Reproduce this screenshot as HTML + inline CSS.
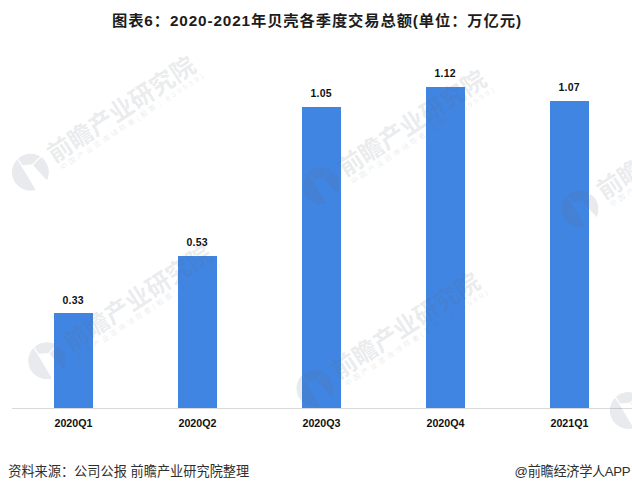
<!DOCTYPE html>
<html lang="zh"><head><meta charset="utf-8"><title>图表6：2020-2021年贝壳各季度交易总额(单位：万亿元)</title>
<style>
html,body{margin:0;padding:0;background:#fff;}
body{width:632px;height:492px;overflow:hidden;position:relative;font-family:"Liberation Sans",sans-serif;}
#chart{position:absolute;left:0;top:0;width:632px;height:492px;}
.bar{position:absolute;background:#4185E2;}
.val,.cat{position:absolute;font-family:"Liberation Sans",sans-serif;font-weight:bold;color:#111;text-align:center;white-space:nowrap;}
.val{font-size:10.5px;line-height:12px;width:60px;letter-spacing:0.25px;}
.cat{font-size:10.7px;line-height:12px;width:80px;}
.axis{position:absolute;left:11.5px;top:408px;width:621px;height:1px;background:#d9d9d9;}
svg{position:absolute;left:0;top:0;}
svg text{font-family:"Liberation Sans","Noto Sans CJK SC",sans-serif;}
.sr{position:absolute;left:0;top:0;width:1px;height:1px;overflow:hidden;opacity:0;font-size:1px;}
</style></head><body><div id="chart">

<div class="bar" style="left:54px;top:313px;width:39px;height:95px"></div>
<div class="bar" style="left:178px;top:256px;width:39px;height:152px"></div>
<div class="bar" style="left:302px;top:107px;width:39px;height:301px"></div>
<div class="bar" style="left:426px;top:87px;width:39px;height:321px"></div>
<div class="bar" style="left:550px;top:101px;width:39px;height:307px"></div>
<div class="axis"></div>
<div class="val" style="left:43.1px;top:294.26px">0.33</div>
<div class="cat" style="left:33.5px;top:416.6px">2020Q1</div>
<div class="val" style="left:167.1px;top:236.16px">0.53</div>
<div class="cat" style="left:157.5px;top:416.6px">2020Q2</div>
<div class="val" style="left:291.1px;top:87.26px">1.05</div>
<div class="cat" style="left:281.5px;top:416.6px">2020Q3</div>
<div class="val" style="left:415.1px;top:67.36px">1.12</div>
<div class="cat" style="left:405.5px;top:416.6px">2020Q4</div>
<div class="val" style="left:539.1px;top:81.26px">1.07</div>
<div class="cat" style="left:529.5px;top:416.6px">2021Q1</div>
<svg width="632" height="492" viewBox="0 0 632 492" role="img" aria-label="图表6：2020-2021年贝壳各季度交易总额(单位：万亿元) 资料来源：公司公报 前瞻产业研究院整理 @前瞻经济学人APP">
<defs><mask id="lm" maskUnits="userSpaceOnUse" x="-20" y="-20" width="40" height="40"><circle cx="0" cy="0" r="18.6" fill="#fff"/><path fill="#000" d="M-4.1,-21 L-2.9,-21 L-2.9,-10.2 L5.5,-5.7 L21,-8.6 L21,-7.3 L5.9,-4.4 L9.4,15.5 L10,21 L-5.6,21 L-5.3,17.8 L-4.1,-10.8 Z"/></mask></defs>
<text x="112" y="26.2" font-size="15.3" font-weight="bold" fill="#1c1c1c" textLength="409" lengthAdjust="spacing">图表6：2020-2021年贝壳各季度交易总额(单位：万亿元)</text>
<text x="8.2" y="476" font-size="13.2" fill="#2e2e2e" textLength="241" lengthAdjust="spacing">资料来源：公司公报 前瞻产业研究院整理</text>
<text x="514.6" y="475.6" font-size="13.2" fill="#2e2e2e" textLength="116" lengthAdjust="spacing">@前瞻经济学人APP</text>
<g fill="#5c687c" fill-opacity="0.14" transform="translate(30.4 172.2) rotate(-33.2)"><circle cx="0" cy="0" r="18.6" mask="url(#lm)"/><text x="25" y="6" font-size="24.4" font-weight="bold" textLength="171" lengthAdjust="spacing">前瞻产业研究院</text><text x="27.4" y="16" font-size="7.3" textLength="169.6" lengthAdjust="spacing">中国产业咨询领导者(股票：839599)</text></g>
<g fill="#5c687c" fill-opacity="0.14" transform="translate(321.2 186) rotate(-33.2)"><circle cx="0" cy="0" r="18.6" mask="url(#lm)"/><text x="25" y="6" font-size="24.4" font-weight="bold" textLength="171" lengthAdjust="spacing">前瞻产业研究院</text><text x="27.4" y="16" font-size="7.3" textLength="169.6" lengthAdjust="spacing">中国产业咨询领导者(股票：839599)</text></g>
<g fill="#5c687c" fill-opacity="0.14" transform="translate(580 209) rotate(-33.2)"><circle cx="0" cy="0" r="18.6" mask="url(#lm)"/><text x="25" y="6" font-size="24.4" font-weight="bold" textLength="171" lengthAdjust="spacing">前瞻产业研究院</text><text x="27.4" y="16" font-size="7.3" textLength="169.6" lengthAdjust="spacing">中国产业咨询领导者(股票：839599)</text></g>
<g fill="#5c687c" fill-opacity="0.14" transform="translate(46.7 360.7) rotate(-33.2)"><circle cx="0" cy="0" r="18.6" mask="url(#lm)"/><text x="25" y="6" font-size="24.4" font-weight="bold" textLength="171" lengthAdjust="spacing">前瞻产业研究院</text><text x="27.4" y="16" font-size="7.3" textLength="169.6" lengthAdjust="spacing">中国产业咨询领导者(股票：839599)</text></g>
<g fill="#5c687c" fill-opacity="0.14" transform="translate(314.8 388.4) rotate(-33.2)"><circle cx="0" cy="0" r="18.6" mask="url(#lm)"/><text x="25" y="6" font-size="24.4" font-weight="bold" textLength="171" lengthAdjust="spacing">前瞻产业研究院</text><text x="27.4" y="16" font-size="7.3" textLength="169.6" lengthAdjust="spacing">中国产业咨询领导者(股票：839599)</text></g>
<g fill="#5c687c" fill-opacity="0.14" transform="translate(628.3 410.5) rotate(-33.2)"><circle cx="0" cy="0" r="18.6" mask="url(#lm)"/><text x="25" y="6" font-size="24.4" font-weight="bold" textLength="171" lengthAdjust="spacing">前瞻产业研究院</text><text x="27.4" y="16" font-size="7.3" textLength="169.6" lengthAdjust="spacing">中国产业咨询领导者(股票：839599)</text></g>
</svg>
<div class="sr">图表6：2020-2021年贝壳各季度交易总额(单位：万亿元) 资料来源：公司公报 前瞻产业研究院整理 @前瞻经济学人APP</div>
</div></body></html>
